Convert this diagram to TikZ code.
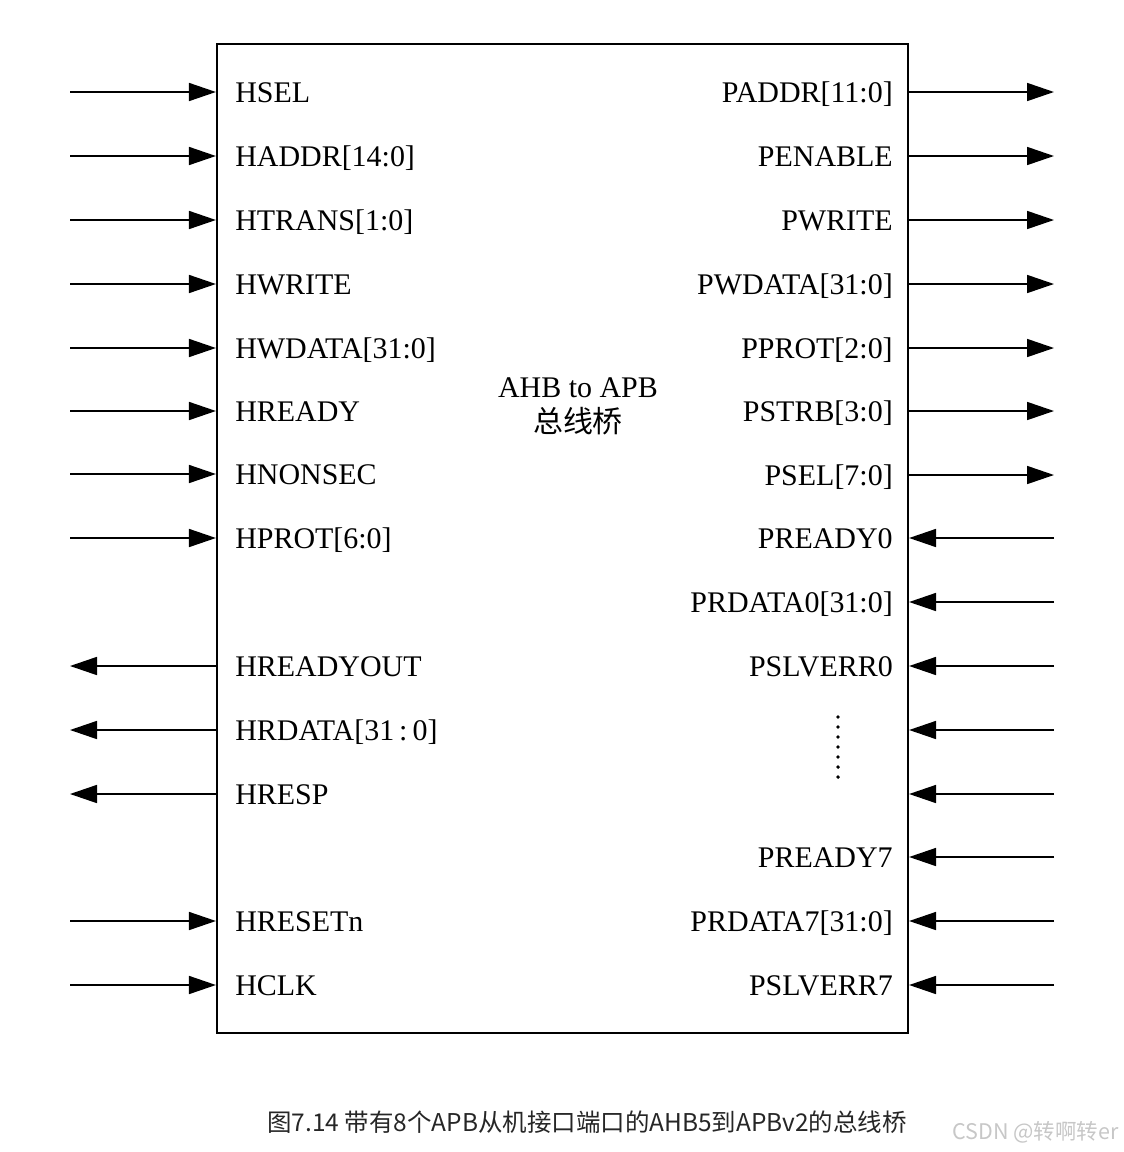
\documentclass[tikz,border=0pt]{standalone}
\usepackage{fontspec}
\setmainfont{Liberation Serif}
\newfontfamily\cjk{Noto Sans CJK SC}
\usetikzlibrary{arrows.meta}

\tikzset{
    sig/.style={line width=1.2pt,-{Triangle[length=0.675cm,width=0.45cm]}},
    lbl/.style={inner sep=0pt,font=\fontsize{21.3}{25}\selectfont},
    lblL/.style={lbl,anchor=base west},
    lblR/.style={lbl,anchor=base east}
}

\begin{document}
\begin{tikzpicture}[x=0.025cm,y=-0.025cm]
        \useasboundingbox (0,0) rectangle (1124,1152);

        %%%%%%%%%% Blocco %%%%%%%%%%
        \node[draw,line width=1.4pt,minimum width=17.275cm,minimum height=24.725cm,inner sep=0pt] (bridge) at (562.5,538.5) {};
        \node[lbl,anchor=base] (title) at (578,397) {AHB to APB};
        \node[lbl,anchor=base,font=\cjk\fontsize{21.3}{25}\selectfont] (titlecn) at (578,432) {总线桥};
        \draw[line width=2.8pt,line cap=round,dash pattern=on 0pt off 0.25cm] (838,717) -- (838,778);

        %%%%%%%%%% Segnali AHB %%%%%%%%%%
        \node[lblL] (hsel) at (235,102) {HSEL};
        \node[lblL] (haddr) at (235,166) {HADDR[14:0]};
        \node[lblL] (htrans) at (235,230) {HTRANS[1:0]};
        \node[lblL] (hwrite) at (235,294) {HWRITE};
        \node[lblL] (hwdata) at (235,358) {HWDATA[31:0]};
        \node[lblL] (hready) at (235,421) {HREADY};
        \node[lblL] (hnonsec) at (235,484) {HNONSEC};
        \node[lblL] (hprot) at (235,548) {HPROT[6:0]};
        \node[lblL] (hreadyout) at (235,676) {HREADYOUT};
        \node[lblL] (hrdata) at (235,740) {HRDATA[31\,:\,0]};
        \node[lblL] (hresp) at (235,804) {HRESP};
        \node[lblL] (hresetn) at (235,931) {HRESETn};
        \node[lblL] (hclk) at (235,995) {HCLK};

        \coordinate (inHsel) at (70,92);
        \coordinate (inHaddr) at (70,156);
        \coordinate (inHtrans) at (70,220);
        \coordinate (inHwrite) at (70,284);
        \coordinate (inHwdata) at (70,348);
        \coordinate (inHready) at (70,411);
        \coordinate (inHnonsec) at (70,474);
        \coordinate (inHprot) at (70,538);
        \coordinate (outHreadyout) at (70,666);
        \coordinate (outHrdata) at (70,730);
        \coordinate (outHresp) at (70,794);
        \coordinate (inHresetn) at (70,921);
        \coordinate (inHclk) at (70,985);

        %%%%%%%%% Frecce AHB %%%%%%%%%
        \draw[sig] (inHsel) -- (inHsel -| bridge.west);
        \draw[sig] (inHaddr) -- (inHaddr -| bridge.west);
        \draw[sig] (inHtrans) -- (inHtrans -| bridge.west);
        \draw[sig] (inHwrite) -- (inHwrite -| bridge.west);
        \draw[sig] (inHwdata) -- (inHwdata -| bridge.west);
        \draw[sig] (inHready) -- (inHready -| bridge.west);
        \draw[sig] (inHnonsec) -- (inHnonsec -| bridge.west);
        \draw[sig] (inHprot) -- (inHprot -| bridge.west);
        \draw[sig] (outHreadyout -| bridge.west) -- (outHreadyout);
        \draw[sig] (outHrdata -| bridge.west) -- (outHrdata);
        \draw[sig] (outHresp -| bridge.west) -- (outHresp);
        \draw[sig] (inHresetn) -- (inHresetn -| bridge.west);
        \draw[sig] (inHclk) -- (inHclk -| bridge.west);

        %%%%%%%%%% Segnali APB %%%%%%%%%%
        \node[lblR] (paddr) at (893,102) {PADDR[11:0]};
        \node[lblR] (penable) at (893,166) {PENABLE};
        \node[lblR] (pwrite) at (893,230) {PWRITE};
        \node[lblR] (pwdata) at (893,294) {PWDATA[31:0]};
        \node[lblR] (pprot) at (893,358) {PPROT[2:0]};
        \node[lblR] (pstrb) at (893,421) {PSTRB[3:0]};
        \node[lblR] (psel) at (893,485) {PSEL[7:0]};
        \node[lblR] (pready0) at (893,548) {PREADY0};
        \node[lblR] (prdata0) at (893,612) {PRDATA0[31:0]};
        \node[lblR] (pslverr0) at (893,676) {PSLVERR0};
        \node[lblR] (pready7) at (893,867) {PREADY7};
        \node[lblR] (prdata7) at (893,931) {PRDATA7[31:0]};
        \node[lblR] (pslverr7) at (893,995) {PSLVERR7};

        \coordinate (outPaddr) at (1054,92);
        \coordinate (outPenable) at (1054,156);
        \coordinate (outPwrite) at (1054,220);
        \coordinate (outPwdata) at (1054,284);
        \coordinate (outPprot) at (1054,348);
        \coordinate (outPstrb) at (1054,411);
        \coordinate (outPsel) at (1054,475);
        \coordinate (inPready0) at (1054,538);
        \coordinate (inPrdata0) at (1054,602);
        \coordinate (inPslverr0) at (1054,666);
        \coordinate (inDotsA) at (1054,730);
        \coordinate (inDotsB) at (1054,794);
        \coordinate (inPready7) at (1054,857);
        \coordinate (inPrdata7) at (1054,921);
        \coordinate (inPslverr7) at (1054,985);

        %%%%%%%%% Frecce APB %%%%%%%%%
        \draw[sig] (outPaddr -| bridge.east) -- (outPaddr);
        \draw[sig] (outPenable -| bridge.east) -- (outPenable);
        \draw[sig] (outPwrite -| bridge.east) -- (outPwrite);
        \draw[sig] (outPwdata -| bridge.east) -- (outPwdata);
        \draw[sig] (outPprot -| bridge.east) -- (outPprot);
        \draw[sig] (outPstrb -| bridge.east) -- (outPstrb);
        \draw[sig] (outPsel -| bridge.east) -- (outPsel);
        \draw[sig] (inPready0) -- (inPready0 -| bridge.east);
        \draw[sig] (inPrdata0) -- (inPrdata0 -| bridge.east);
        \draw[sig] (inPslverr0) -- (inPslverr0 -| bridge.east);
        \draw[sig] (inDotsA) -- (inDotsA -| bridge.east);
        \draw[sig] (inDotsB) -- (inDotsB -| bridge.east);
        \draw[sig] (inPready7) -- (inPready7 -| bridge.east);
        \draw[sig] (inPrdata7) -- (inPrdata7 -| bridge.east);
        \draw[sig] (inPslverr7) -- (inPslverr7 -| bridge.east);

        %%%%%%%%% Didascalia %%%%%%%%%
        \node[inner sep=0pt,text=black!85,font=\cjk\fontsize{17.4}{20}\selectfont] (caption) at (587,1122) {图7.14 带有8个APB从机接口端口的AHB5到APBv2的总线桥};
        \node[inner sep=0pt,anchor=west,text=black!22,font=\cjk\fontsize{15.3}{18}\selectfont] (mark) at (952,1132) {CSDN @转啊转er};
    \end{tikzpicture}
\end{document}
